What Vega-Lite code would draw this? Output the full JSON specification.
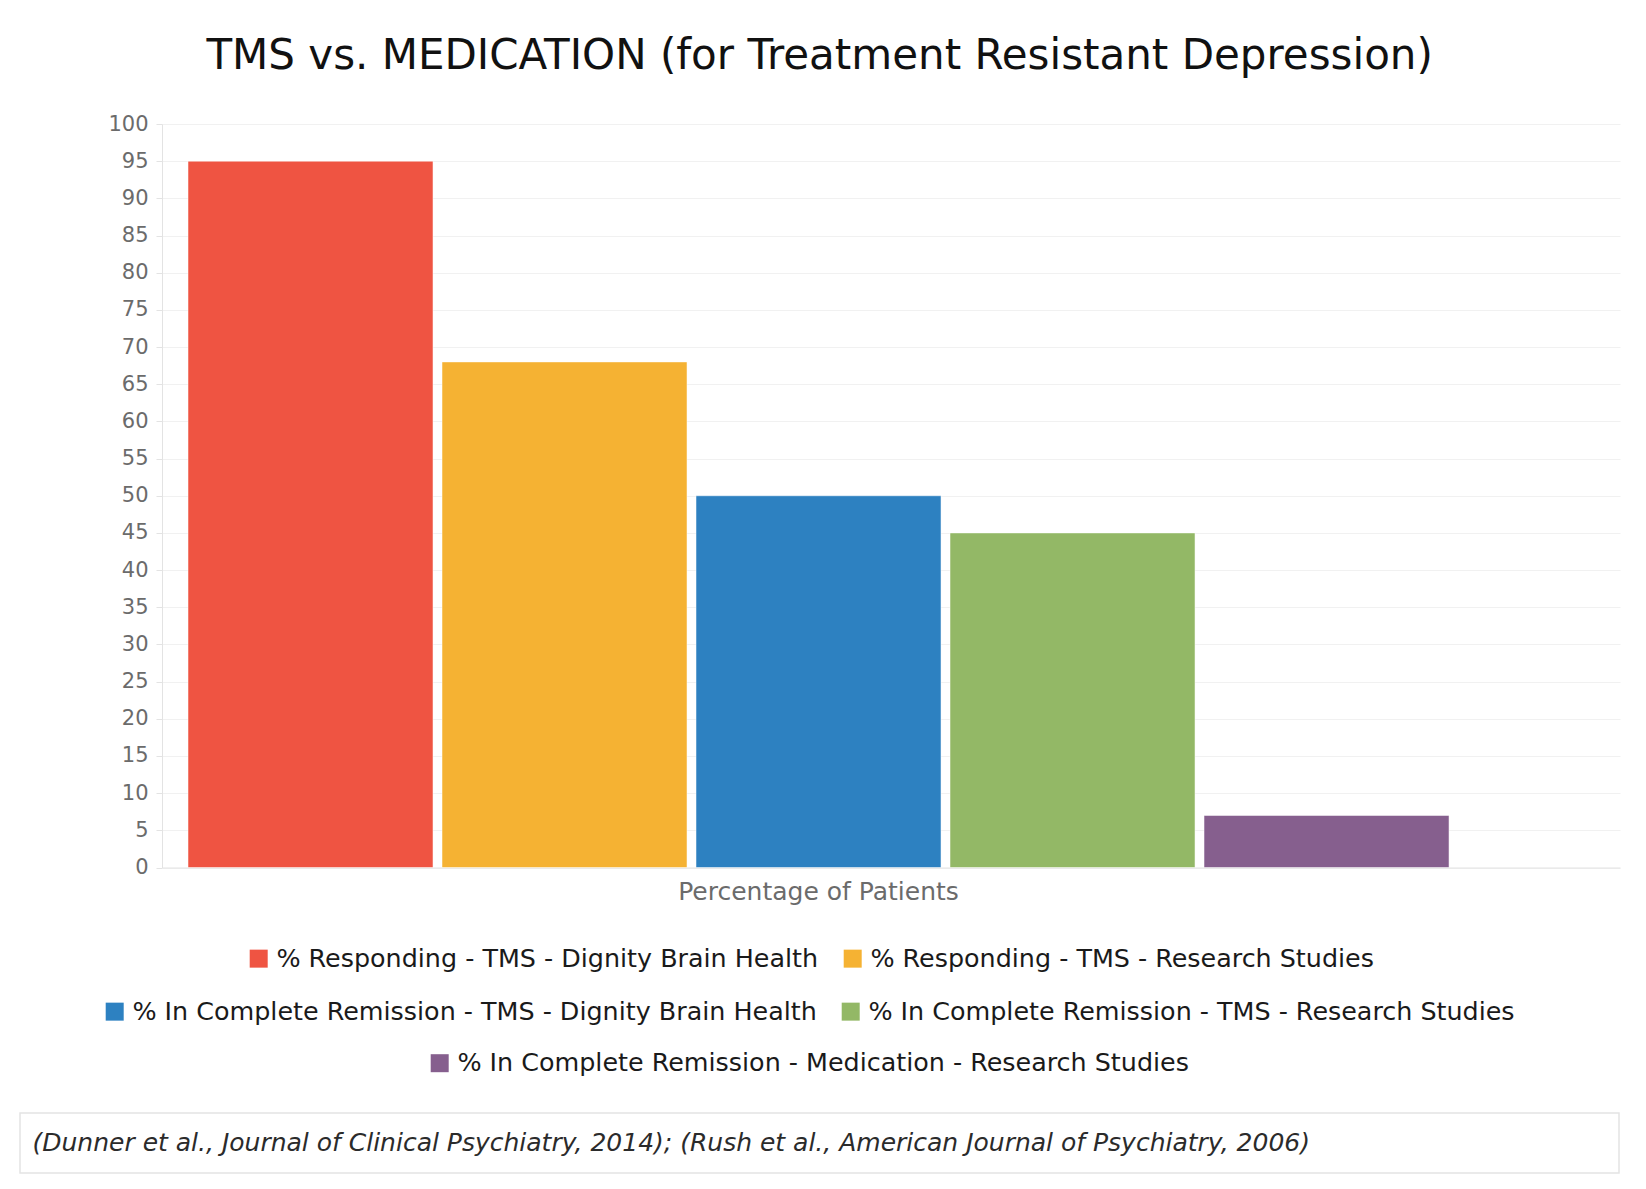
{
  "$schema": "https://vega.github.io/schema/vega-lite/v6.json",
  "datasets": {
    "bars": [
      {"category": "Percentage of Patients", "series": "% Responding - TMS - Dignity Brain Health", "value": 95},
      {"category": "Percentage of Patients", "series": "% Responding - TMS - Research Studies", "value": 68},
      {"category": "Percentage of Patients", "series": "% In Complete Remission - TMS - Dignity Brain Health", "value": 50},
      {"category": "Percentage of Patients", "series": "% In Complete Remission - TMS - Research Studies", "value": 45},
      {"category": "Percentage of Patients", "series": "% In Complete Remission - Medication - Research Studies", "value": 7}
    ],
    "note": [
      {"text": "(Dunner et al., Journal of Clinical Psychiatry, 2014); (Rush et al., American Journal of Psychiatry, 2006)"}
    ]
  },
  "title": {
    "text": "TMS vs. MEDICATION (for Treatment Resistant Depression)",
    "anchor": "middle",
    "fontSize": 42,
    "fontWeight": "normal",
    "color": "#111111",
    "offset": 35
  },
  "padding": {"left": 19, "top": 35, "right": 27, "bottom": 17},
  "spacing": 34,
  "vconcat": [
    {
      "width": 1458,
      "height": 743.5,
      "view": {"stroke": null},
      "data": {"name": "bars"},
      "encoding": {
        "x": {
          "field": "category",
          "type": "nominal",
          "scale": {"paddingInner": 0, "paddingOuter": 0.0781, "align": 0.132},
          "axis": {"title": null, "ticks": false, "labelPadding": 12, "labelFontSize": 25, "labelColor": "#6b6b6b", "domainColor": "#e3e3e3", "labelAngle": 0, "labelLimit": 1000, "grid": false}
        },
        "xOffset": {
          "field": "series",
          "type": "nominal",
          "scale": {
            "domain": [
              "% Responding - TMS - Dignity Brain Health",
              "% Responding - TMS - Research Studies",
              "% In Complete Remission - TMS - Dignity Brain Health",
              "% In Complete Remission - TMS - Research Studies",
              "% In Complete Remission - Medication - Research Studies"
            ],
            "paddingInner": 0.0354,
            "paddingOuter": 0
          }
        },
        "y": {
          "field": "value",
          "type": "quantitative",
          "scale": {"domain": [0, 100], "nice": false},
          "axis": {
            "title": null,
            "values": [0, 5, 10, 15, 20, 25, 30, 35, 40, 45, 50, 55, 60, 65, 70, 75, 80, 85, 90, 95, 100],
            "labelFontSize": 21,
            "labelColor": "#6b6b6b",
            "labelPadding": 8,
            "tickSize": 6,
            "tickColor": "#e3e3e3",
            "domainColor": "#e3e3e3",
            "gridColor": "#f1f1f1",
            "minExtent": 142
          }
        }
      },
      "layer": [
        {
          "transform": [{"filter": {"field": "series", "oneOf": ["% Responding - TMS - Dignity Brain Health", "% Responding - TMS - Research Studies"]}}],
          "mark": {"type": "bar", "stroke": "#ffffff", "strokeWidth": 1, "strokeOpacity": 0.5},
          "encoding": {
            "color": {
              "field": "series",
              "type": "nominal",
              "scale": {"domain": ["% Responding - TMS - Dignity Brain Health", "% Responding - TMS - Research Studies"], "range": ["#ef5442", "#f5b233"]},
              "legend": {"orient": "none", "legendX": 84, "legendY": 821.5, "direction": "horizontal", "columns": 2}
            }
          }
        },
        {
          "transform": [{"filter": {"field": "series", "oneOf": ["% In Complete Remission - TMS - Dignity Brain Health", "% In Complete Remission - TMS - Research Studies"]}}],
          "mark": {"type": "bar", "stroke": "#ffffff", "strokeWidth": 1, "strokeOpacity": 0.5},
          "encoding": {
            "color": {
              "field": "series",
              "type": "nominal",
              "scale": {"domain": ["% In Complete Remission - TMS - Dignity Brain Health", "% In Complete Remission - TMS - Research Studies"], "range": ["#2d81c1", "#93b866"]},
              "legend": {"orient": "none", "legendX": -60, "legendY": 874.5, "direction": "horizontal", "columns": 2}
            }
          }
        },
        {
          "transform": [{"filter": {"field": "series", "oneOf": ["% In Complete Remission - Medication - Research Studies"]}}],
          "mark": {"type": "bar", "stroke": "#ffffff", "strokeWidth": 1, "strokeOpacity": 0.5},
          "encoding": {
            "color": {
              "field": "series",
              "type": "nominal",
              "scale": {"domain": ["% In Complete Remission - Medication - Research Studies"], "range": ["#865f8e"]},
              "legend": {"orient": "none", "legendX": 265, "legendY": 926.5, "direction": "horizontal", "columns": 1}
            }
          }
        }
      ],
      "resolve": {"scale": {"color": "independent"}, "legend": {"color": "independent"}}
    },
    {
      "width": 1458,
      "height": 60,
      "view": {"stroke": null},
      "data": {"name": "note"},
      "encoding": {
        "x": {"field": "text", "type": "nominal", "axis": null, "scale": {"type": "band", "range": [-142, 1457], "paddingInner": 0, "paddingOuter": 0}}
      },
      "layer": [
        {
          "mark": {"type": "rect", "fill": "#ffffff", "stroke": "#e4e4e4", "strokeWidth": 1.5}
        },
        {
          "mark": {"type": "text", "align": "left", "baseline": "middle", "dx": 12.5, "fontStyle": "italic", "fontSize": 25, "color": "#2b2b2b"},
          "encoding": {
            "x": {"field": "text", "type": "nominal", "axis": null, "bandPosition": 0},
            "text": {"field": "text"}
          }
        }
      ]
    }
  ],
  "resolve": {"scale": {"color": "independent"}, "legend": {"color": "independent"}},
  "config": {
    "font": "DejaVu Sans",
    "background": "#ffffff",
    "legend": {
      "title": null,
      "labelFont": "DejaVu Sans",
      "labelFontSize": 25.4,
      "labelColor": "#1a1a1a",
      "labelLimit": 2000,
      "symbolType": "square",
      "symbolSize": 324,
      "symbolStrokeWidth": 0,
      "symbolOpacity": 1,
      "labelOffset": 5,
      "columnPadding": 21,
      "padding": 0
    }
  }
}
